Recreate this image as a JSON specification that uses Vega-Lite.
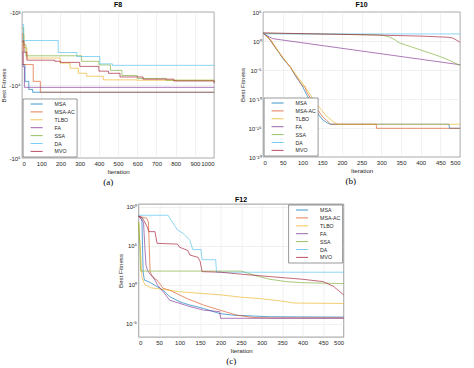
{
"$schema": "https://vega.github.io/schema/vega-lite/v6.json",
"padding": 0,
"background": "white",
"config": {
  "font": "Liberation Sans",
  "view": {"stroke": "#555555", "strokeWidth": 0.6},
  "axis": {"labelFontSize": 6, "titleFontSize": 6.2, "labelColor": "#262626", "titleColor": "#262626", "titleFontWeight": "normal", "gridColor": "#e3e3e3", "gridWidth": 0.5, "domain": false, "ticks": false, "labelPadding": 2, "titlePadding": 2},
  "legend": {"offset": 1, "padding": 2, "fillColor": "white", "strokeColor": "#333333", "strokeWidth": 0.5, "labelFontSize": 5.2, "labelColor": "#262626", "rowPadding": 0.9, "symbolType": "M-2.4,0H2.4", "symbolSize": 25, "symbolStrokeWidth": 0.8, "symbolOffset": 8.5, "labelOffset": 15, "title": null},
  "line": {"strokeWidth": 0.75, "clip": true, "opacity": 0.85}
},
"datasets": {
  "f8": [
    {"algo":"MSA","it":0,"v":-5250},{"algo":"MSA","it":15,"v":-8910},{"algo":"MSA","it":35,"v":-11480},{"algo":"MSA","it":55,"v":-12570},{"algo":"MSA","it":1000,"v":-12570},
    {"algo":"MSA-AC","it":0,"v":-2000},{"algo":"MSA-AC","it":5,"v":-5250},{"algo":"MSA-AC","it":58,"v":-8910},{"algo":"MSA-AC","it":95,"v":-12570},{"algo":"MSA-AC","it":1000,"v":-12570},
    {"algo":"TLBO","it":0,"v":-2040},{"algo":"TLBO","it":10,"v":-3090},{"algo":"TLBO","it":25,"v":-4270},{"algo":"TLBO","it":198,"v":-5010},{"algo":"TLBO","it":250,"v":-5890},{"algo":"TLBO","it":293,"v":-6920},{"algo":"TLBO","it":336,"v":-7590},{"algo":"TLBO","it":423,"v":-8510},{"algo":"TLBO","it":600,"v":-8610},{"algo":"TLBO","it":1000,"v":-8610},
    {"algo":"FA","it":0,"v":-3550},{"algo":"FA","it":5,"v":-5620},{"algo":"FA","it":12,"v":-10770},{"algo":"FA","it":1000,"v":-10770},
    {"algo":"SSA","it":0,"v":-1660},{"algo":"SSA","it":8,"v":-2820},{"algo":"SSA","it":20,"v":-3980},{"algo":"SSA","it":310,"v":-4740},{"algo":"SSA","it":400,"v":-5310},{"algo":"SSA","it":460,"v":-6310},{"algo":"SSA","it":520,"v":-7410},{"algo":"SSA","it":600,"v":-8130},{"algo":"SSA","it":750,"v":-8610},{"algo":"SSA","it":1000,"v":-9020},
    {"algo":"DA","it":0,"v":-1480},{"algo":"DA","it":8,"v":-2460},{"algo":"DA","it":188,"v":-3590},{"algo":"DA","it":285,"v":-4070},{"algo":"DA","it":405,"v":-5130},{"algo":"DA","it":470,"v":-5380},{"algo":"DA","it":1000,"v":-5380},
    {"algo":"MVO","it":0,"v":-2510},{"algo":"MVO","it":10,"v":-3550},{"algo":"MVO","it":25,"v":-4570},{"algo":"MVO","it":170,"v":-4730},{"algo":"MVO","it":200,"v":-4900},{"algo":"MVO","it":300,"v":-5560},{"algo":"MVO","it":400,"v":-6460},{"algo":"MVO","it":450,"v":-6920},{"algo":"MVO","it":510,"v":-7760},{"algo":"MVO","it":630,"v":-8320},{"algo":"MVO","it":790,"v":-8810},{"algo":"MVO","it":1000,"v":-9440}
  ],
  "f10": [
    {"algo":"MSA","it":0,"v":20.5},{"algo":"MSA","it":10,"v":7.9},{"algo":"MSA","it":20,"v":1},{"algo":"MSA","it":30,"v":0.1},{"algo":"MSA","it":40,"v":0.01},{"algo":"MSA","it":50,"v":1e-3},{"algo":"MSA","it":60,"v":1.6e-4},{"algo":"MSA","it":70,"v":2.5e-5},{"algo":"MSA","it":80,"v":1.6e-6},{"algo":"MSA","it":90,"v":1.6e-7},{"algo":"MSA","it":100,"v":1.6e-8},{"algo":"MSA","it":110,"v":6.3e-10},{"algo":"MSA","it":120,"v":4e-11},{"algo":"MSA","it":130,"v":2.5e-12},{"algo":"MSA","it":140,"v":2.5e-13},{"algo":"MSA","it":150,"v":3.2e-14},{"algo":"MSA","it":160,"v":1e-14},{"algo":"MSA","it":170,"v":4.44e-15},{"algo":"MSA","it":472,"v":4.44e-15},{"algo":"MSA","it":473,"v":8.88e-16},{"algo":"MSA","it":500,"v":8.88e-16},
    {"algo":"MSA-AC","it":0,"v":20.5},{"algo":"MSA-AC","it":10,"v":6},{"algo":"MSA-AC","it":20,"v":0.9},{"algo":"MSA-AC","it":30,"v":0.09},{"algo":"MSA-AC","it":40,"v":0.012},{"algo":"MSA-AC","it":50,"v":1.2e-3},{"algo":"MSA-AC","it":60,"v":2e-4},{"algo":"MSA-AC","it":70,"v":3e-5},{"algo":"MSA-AC","it":80,"v":2e-6},{"algo":"MSA-AC","it":90,"v":2e-7},{"algo":"MSA-AC","it":100,"v":1.8e-8},{"algo":"MSA-AC","it":106,"v":1.5e-8},{"algo":"MSA-AC","it":110,"v":2e-9},{"algo":"MSA-AC","it":120,"v":1.5e-10},{"algo":"MSA-AC","it":130,"v":1e-11},{"algo":"MSA-AC","it":140,"v":1e-12},{"algo":"MSA-AC","it":150,"v":1e-13},{"algo":"MSA-AC","it":160,"v":2.5e-14},{"algo":"MSA-AC","it":172,"v":4.44e-15},{"algo":"MSA-AC","it":287,"v":4.44e-15},{"algo":"MSA-AC","it":288,"v":8.88e-16},{"algo":"MSA-AC","it":500,"v":8.88e-16},
    {"algo":"TLBO","it":0,"v":20.5},{"algo":"TLBO","it":20,"v":1.6},{"algo":"TLBO","it":40,"v":0.013},{"algo":"TLBO","it":60,"v":2e-4},{"algo":"TLBO","it":80,"v":3.2e-6},{"algo":"TLBO","it":100,"v":5e-8},{"algo":"TLBO","it":120,"v":5e-10},{"algo":"TLBO","it":140,"v":6.3e-12},{"algo":"TLBO","it":160,"v":1.26e-13},{"algo":"TLBO","it":180,"v":1e-14},{"algo":"TLBO","it":190,"v":4.44e-15},{"algo":"TLBO","it":500,"v":4.44e-15},
    {"algo":"FA","it":0,"v":22},{"algo":"FA","it":10,"v":8},{"algo":"FA","it":25,"v":2.5},{"algo":"FA","it":500,"v":8e-5},
    {"algo":"SSA","it":0,"v":22},{"algo":"SSA","it":300,"v":11},{"algo":"SSA","it":320,"v":5},{"algo":"SSA","it":335,"v":1.6},{"algo":"SSA","it":345,"v":0.5},{"algo":"SSA","it":380,"v":0.08},{"algo":"SSA","it":420,"v":0.01},{"algo":"SSA","it":450,"v":2e-3},{"algo":"SSA","it":475,"v":4e-4},{"algo":"SSA","it":500,"v":6e-5},
    {"algo":"DA","it":0,"v":25},{"algo":"DA","it":5,"v":16.5},{"algo":"DA","it":500,"v":16.5},
    {"algo":"MVO","it":0,"v":25},{"algo":"MVO","it":250,"v":12},{"algo":"MVO","it":400,"v":7},{"algo":"MVO","it":470,"v":4.4},{"algo":"MVO","it":480,"v":3.5},{"algo":"MVO","it":490,"v":1.5},{"algo":"MVO","it":500,"v":0.6}
  ],
  "f12": [
    {"algo":"MSA","it":0,"v":6.3e8},{"algo":"MSA","it":8,"v":3.2e8},{"algo":"MSA","it":11,"v":47},{"algo":"MSA","it":14,"v":4},{"algo":"MSA","it":28,"v":2},{"algo":"MSA","it":45,"v":0.55},{"algo":"MSA","it":60,"v":0.2},{"algo":"MSA","it":76,"v":0.029},{"algo":"MSA","it":101,"v":6.3e-3},{"algo":"MSA","it":125,"v":2.5e-3},{"algo":"MSA","it":158,"v":9.3e-4},{"algo":"MSA","it":198,"v":2e-4},{"algo":"MSA","it":231,"v":1.26e-4},{"algo":"MSA","it":320,"v":7.9e-5},{"algo":"MSA","it":500,"v":7.1e-5},
    {"algo":"MSA-AC","it":0,"v":6.3e8},{"algo":"MSA-AC","it":20,"v":3.2e8},{"algo":"MSA-AC","it":24,"v":1e8},{"algo":"MSA-AC","it":28,"v":47},{"algo":"MSA-AC","it":35,"v":7.9},{"algo":"MSA-AC","it":45,"v":4},{"algo":"MSA-AC","it":60,"v":0.34},{"algo":"MSA-AC","it":76,"v":0.2},{"algo":"MSA-AC","it":117,"v":0.0178},{"algo":"MSA-AC","it":158,"v":2.5e-3},{"algo":"MSA-AC","it":198,"v":5.6e-4},{"algo":"MSA-AC","it":239,"v":1.26e-4},{"algo":"MSA-AC","it":280,"v":6.3e-5},{"algo":"MSA-AC","it":320,"v":5.6e-5},{"algo":"MSA-AC","it":500,"v":5.6e-5},
    {"algo":"TLBO","it":0,"v":1e8},{"algo":"TLBO","it":5,"v":1e4},{"algo":"TLBO","it":8,"v":10},{"algo":"TLBO","it":15,"v":1},{"algo":"TLBO","it":30,"v":0.4},{"algo":"TLBO","it":60,"v":0.25},{"algo":"TLBO","it":100,"v":0.126},{"algo":"TLBO","it":150,"v":0.079},{"algo":"TLBO","it":200,"v":0.05},{"algo":"TLBO","it":250,"v":0.025},{"algo":"TLBO","it":300,"v":0.0158},{"algo":"TLBO","it":350,"v":7.9e-3},{"algo":"TLBO","it":380,"v":4.5e-3},{"algo":"TLBO","it":500,"v":4e-3},
    {"algo":"FA","it":0,"v":6.3e8},{"algo":"FA","it":12,"v":1e8},{"algo":"FA","it":15,"v":1e5},{"algo":"FA","it":18,"v":316},{"algo":"FA","it":22,"v":63},{"algo":"FA","it":30,"v":15.8},{"algo":"FA","it":36,"v":10},{"algo":"FA","it":46,"v":0.91},{"algo":"FA","it":60,"v":0.126},{"algo":"FA","it":76,"v":0.01},{"algo":"FA","it":101,"v":4e-3},{"algo":"FA","it":125,"v":1.58e-3},{"algo":"FA","it":158,"v":5.6e-4},{"algo":"FA","it":198,"v":3.5e-4},{"algo":"FA","it":200,"v":5e-5},{"algo":"FA","it":500,"v":5e-5},
    {"algo":"SSA","it":0,"v":1e8},{"algo":"SSA","it":3,"v":1e5},{"algo":"SSA","it":5,"v":56},{"algo":"SSA","it":250,"v":56},{"algo":"SSA","it":265,"v":32},{"algo":"SSA","it":290,"v":12.6},{"algo":"SSA","it":320,"v":5},{"algo":"SSA","it":360,"v":2.5},{"algo":"SSA","it":400,"v":1.8},{"algo":"SSA","it":500,"v":1.4},
    {"algo":"DA","it":0,"v":7.9e8},{"algo":"DA","it":72,"v":7.9e8},{"algo":"DA","it":80,"v":1.6e8},{"algo":"DA","it":95,"v":1e7},{"algo":"DA","it":108,"v":4e6},{"algo":"DA","it":125,"v":5e5},{"algo":"DA","it":132,"v":3.2e4},{"algo":"DA","it":152,"v":3.2e4},{"algo":"DA","it":155,"v":1600},{"algo":"DA","it":188,"v":1600},{"algo":"DA","it":190,"v":40},{"algo":"DA","it":500,"v":40},
    {"algo":"MVO","it":0,"v":6.3e8},{"algo":"MVO","it":10,"v":3.2e8},{"algo":"MVO","it":20,"v":3.2e7},{"algo":"MVO","it":25,"v":6.3e6},{"algo":"MVO","it":40,"v":6.3e6},{"algo":"MVO","it":45,"v":2e5},{"algo":"MVO","it":95,"v":1.6e5},{"algo":"MVO","it":100,"v":6.3e4},{"algo":"MVO","it":120,"v":2.5e4},{"algo":"MVO","it":125,"v":6300},{"algo":"MVO","it":145,"v":3200},{"algo":"MVO","it":150,"v":1000},{"algo":"MVO","it":155,"v":47},{"algo":"MVO","it":200,"v":40},{"algo":"MVO","it":240,"v":25},{"algo":"MVO","it":320,"v":11},{"algo":"MVO","it":400,"v":5},{"algo":"MVO","it":450,"v":2.5},{"algo":"MVO","it":475,"v":0.63},{"algo":"MVO","it":500,"v":0.05}
  ]
},
"vconcat": [
  {"hconcat": [
    {"title": {"text": "(a)", "orient": "bottom", "anchor": "middle", "font": "Liberation Serif", "fontSize": 9, "fontWeight": "normal", "color": "#000000", "offset": 3},
     "resolve": {"scale": {"color": "independent"}, "legend": {"color": "independent"}},
     "vconcat": [{
      "width": 192, "height": 146,
      "title": {"text": "F8", "fontSize": 7, "fontWeight": "bold", "color": "#000000", "offset": 1},
      "data": {"name": "f8"},
      "mark": {"type": "line", "interpolate": "step-after"},
      "encoding": {
        "x": {"field": "it", "type": "quantitative", "scale": {"domain": [0, 1000], "nice": false}, "axis": {"title": "Iteration", "format": "d", "values": [0,100,200,300,400,500,600,700,800,900,1000]}},
        "y": {"field": "v", "type": "quantitative", "scale": {"type": "log", "domain": [-100000, -1000], "nice": false}, "axis": {"title": "Best Fitness", "values": [-1000, -10000, -100000], "labelExpr": "datum.value > -5000 ? '-10³' : datum.value > -50000 ? '-10⁴' : '-10⁵'"}},
        "color": {"field": "algo", "type": "nominal", "sort": null, "scale": {"domain": ["MSA","MSA-AC","TLBO","FA","SSA","DA","MVO"], "range": ["#0072BD","#D95319","#EDB120","#7E2F8E","#77AC30","#4DBEEE","#A2142F"]}, "legend": {"orient": "bottom-left"}}
      }
    }]},
    {"title": {"text": "(b)", "orient": "bottom", "anchor": "middle", "font": "Liberation Serif", "fontSize": 9, "fontWeight": "normal", "color": "#000000", "offset": 3},
     "resolve": {"scale": {"color": "independent"}, "legend": {"color": "independent"}},
     "vconcat": [{
      "width": 197, "height": 145,
      "title": {"text": "F10", "fontSize": 7, "fontWeight": "bold", "color": "#000000", "offset": 1},
      "data": {"name": "f10"},
      "mark": {"type": "line"},
      "encoding": {
        "x": {"field": "it", "type": "quantitative", "scale": {"domain": [0, 500], "nice": false}, "axis": {"title": "Iteration", "format": "d", "values": [0,50,100,150,200,250,300,350,400,450,500]}},
        "y": {"field": "v", "type": "quantitative", "scale": {"type": "log", "domain": [1e-20, 1e5], "nice": false}, "axis": {"title": "Best Fitness", "values": [1e5, 1, 1e-5, 1e-10, 1e-15, 1e-20], "labelExpr": "datum.value > 1e4 ? '10⁵' : datum.value > 0.1 ? '10⁰' : datum.value > 1e-6 ? '10⁻⁵' : datum.value > 1e-11 ? '10⁻¹⁰' : datum.value > 1e-16 ? '10⁻¹⁵' : '10⁻²⁰'"}},
        "color": {"field": "algo", "type": "nominal", "sort": null, "scale": {"domain": ["MSA","MSA-AC","TLBO","FA","SSA","DA","MVO"], "range": ["#0072BD","#D95319","#EDB120","#7E2F8E","#77AC30","#4DBEEE","#A2142F"]}, "legend": {"orient": "bottom-left"}}
      }
    }]}
  ], "spacing": 23, "resolve": {"scale": {"color": "independent"}, "legend": {"color": "independent"}}},
  {"title": {"text": "(c)", "orient": "bottom", "anchor": "middle", "font": "Liberation Serif", "fontSize": 9, "fontWeight": "normal", "color": "#000000", "offset": 3},
   "resolve": {"scale": {"color": "independent"}, "legend": {"color": "independent"}},
   "vconcat": [{
    "width": 205, "height": 133,
    "title": {"text": "F12", "fontSize": 7, "fontWeight": "bold", "color": "#000000", "offset": 1},
    "data": {"name": "f12"},
    "mark": {"type": "line"},
    "encoding": {
      "x": {"field": "it", "type": "quantitative", "scale": {"domain": [0, 500], "nice": false}, "axis": {"title": "Iteration", "format": "d", "values": [0,50,100,150,200,250,300,350,400,450,500]}},
      "y": {"field": "v", "type": "quantitative", "scale": {"type": "log", "domain": [2e-7, 2.2e10], "nice": false}, "axis": {"title": "Best Fitness", "values": [1e10, 1e5, 1, 1e-5], "labelExpr": "datum.value > 1e8 ? '10¹⁰' : datum.value > 1e3 ? '10⁵' : datum.value > 0.01 ? '10⁰' : '10⁻⁵'"}},
      "color": {"field": "algo", "type": "nominal", "sort": null, "scale": {"domain": ["MSA","MSA-AC","TLBO","FA","SSA","DA","MVO"], "range": ["#0072BD","#D95319","#EDB120","#7E2F8E","#77AC30","#4DBEEE","#A2142F"]}, "legend": {"orient": "top-right"}}
    }
  }]}
],
"spacing": 8,
"center": true,
"resolve": {"scale": {"color": "independent"}, "legend": {"color": "independent"}}
}
